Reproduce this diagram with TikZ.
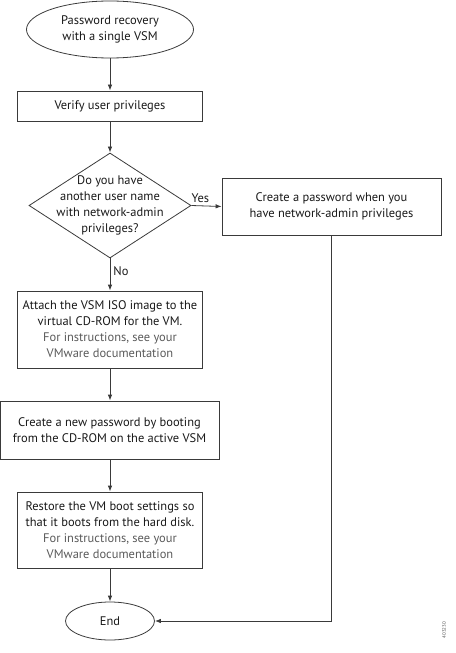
\documentclass[tikz,border=0pt]{standalone}
\usepackage{fontspec}
\setmainfont{PT Sans}
\usepackage{tikz}
\usetikzlibrary{shapes.geometric, arrows.meta, positioning}
\definecolor{linegray}{HTML}{3A3A3A}
\definecolor{notegray}{HTML}{5A5A5A}

\begin{document}
\begin{tikzpicture}[
    x=1bp, y={(0,-1bp)},
    every node/.style={font=\fontsize{12.5}{16}\selectfont, text=black!90},
    box/.style={draw=linegray, line width=0.8bp, align=center, inner sep=2bp},
    term/.style={draw=linegray, line width=0.8bp, ellipse, align=center, inner sep=0pt},
    decision/.style={draw=linegray, line width=0.8bp, diamond, inner sep=0pt},
    arr/.style={-{Latex[length=6bp, width=4.5bp]}, draw=linegray, line width=0.8bp},
    lbl/.style={inner sep=3bp},
  ]

    %% ── page frame (reference proportions) ──
    \useasboundingbox (0,0) rectangle (456,653);

    %% ── main column, x = 110 ──
    \node[term, minimum width=167bp, minimum height=57bp] (start) at (110, 29.5)
      {Password recovery\\with a single VSM};
    \node[box, minimum width=185bp, minimum height=30bp] (verify) at (110, 106)
      {Verify user privileges};
    \node[decision, minimum width=162bp, minimum height=105bp] (ask) at (110, 205.5) {};
    \node[align=center, inner sep=0pt] (asktext) at (110, 205.5)
      {Do you have\\another user name\\with network-admin\\privileges?};
    \node[box, minimum width=185bp, minimum height=77bp] (attach) at (110, 329.5)
      {Attach the VSM ISO image to the\\virtual CD-ROM for the VM.\\
       \textcolor{notegray}{For instructions, see your}\\
       \textcolor{notegray}{VMware documentation}};
    \node[box, minimum width=219bp, minimum height=58bp] (newpw) at (109.5, 430)
      {Create a new password by booting\\from the CD-ROM on the active VSM};
    \node[box, minimum width=185bp, minimum height=76bp] (restore) at (110, 530)
      {Restore the VM boot settings so\\that it boots from the hard disk.\\
       \textcolor{notegray}{For instructions, see your}\\
       \textcolor{notegray}{VMware documentation}};
    \node[term, minimum width=89bp, minimum height=38bp] (finish) at (110, 621) {End};

    %% ── side branch ──
    \node[box, minimum width=219bp, minimum height=57bp] (adminpw) at (331.5, 206.5)
      {Create a password when you\\have network-admin privileges};

    %% ── figure number ──
    \node[font=\fontsize{5}{6}\selectfont, text=notegray, rotate=90] (figid) at (444, 630) {403230};

    %% ═══════ ARROWS ═══════
    \draw[arr] (start.south) -- (verify.north);
    \draw[arr] (verify.south) -- (ask.north);
    \draw[arr] (ask.east) -- node[lbl, above, pos=0.3] {Yes} (adminpw.west);
    \draw[arr] (ask.south) -- node[lbl, right, pos=0.4] {No} (attach.north);
    \draw[arr] (attach.south) -- (attach.south |- newpw.north);
    \draw[arr] (newpw.south -| restore.north) -- (restore.north);
    \draw[arr] (restore.south) -- (finish.north);
    \draw[arr] (adminpw.south) |- (finish.east);

\end{tikzpicture}
\end{document}
